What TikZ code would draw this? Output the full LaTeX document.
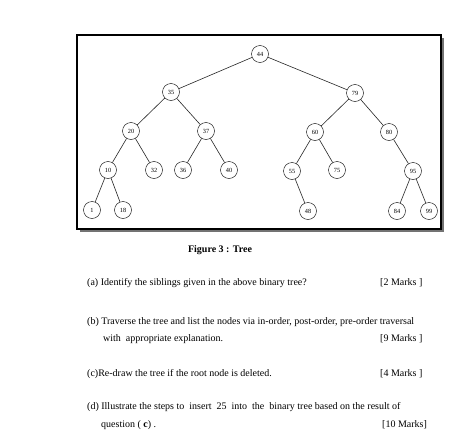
\documentclass[tikz,border=0pt]{standalone}
\usepackage{fontspec}
\setmainfont{Liberation Serif}
\usetikzlibrary{positioning}

\begin{document}
\begin{tikzpicture}[
    x=1pt, y=-1pt,
    tnode/.style={draw, circle, inner sep=0pt, minimum size=17pt, font=\fontsize{6.3}{7}\selectfont},
    link/.style={semithick, black!85},
    qtext/.style={anchor=west, inner sep=0pt, font=\fontsize{10}{12}\selectfont},
    marks/.style={qtext}
]
\useasboundingbox (0,0) rectangle (474,439);

% Frame
\fill[black!55] (80,38) rectangle (444,232);
\draw[line width=1.6pt, fill=white] (77,35) rectangle (441,229);

% Nodes
\node (n44) [tnode] at (260,54) {44};
\node (n35) [tnode] at (171,92) {35};
\node (n79) [tnode] at (355,93) {79};
\node (n20) [tnode] at (131,131) {20};
\node (n37) [tnode] at (206,131) {37};
\node (n60) [tnode] at (315,132) {60};
\node (n80) [tnode] at (389,132) {80};
\node (n10) [tnode] at (108,170) {10};
\node (n32) [tnode] at (154,170) {32};
\node (n36) [tnode] at (183,170) {36};
\node (n40) [tnode] at (229,170) {40};
\node (n55) [tnode] at (292,171) {55};
\node (n75) [tnode] at (337,170) {75};
\node (n95) [tnode] at (413,171) {95};
\node (n1) [tnode] at (92,210) {1};
\node (n18) [tnode] at (123,210) {18};
\node (n48) [tnode] at (308,211) {48};
\node (n84) [tnode] at (397,211) {84};
\node (n99) [tnode] at (429,211) {99};

% Links
\draw[link] (n44) -- (n35);
\draw[link] (n44) -- (n79);
\draw[link] (n35) -- (n20);
\draw[link] (n35) -- (n37);
\draw[link] (n79) -- (n60);
\draw[link] (n79) -- (n80);
\draw[link] (n20) -- (n10);
\draw[link] (n20) -- (n32);
\draw[link] (n37) -- (n36);
\draw[link] (n37) -- (n40);
\draw[link] (n60) -- (n55);
\draw[link] (n60) -- (n75);
\draw[link] (n80) -- (n95);
\draw[link] (n10) -- (n1);
\draw[link] (n10) -- (n18);
\draw[link] (n55) -- (n48);
\draw[link] (n95) -- (n84);
\draw[link] (n95) -- (n99);

% Caption and questions
\node (cap) [inner sep=0pt, font=\fontsize{10}{12}\selectfont\bfseries] at (220,250) {Figure 3 : Tree};
\node (qa) [qtext] at (87,283) {(a) Identify the siblings given in the above binary tree?};
\node (ma) [marks] at (380,283) {[2 Marks ]};
\node (qb) [qtext] at (87,322) {(b) Traverse the tree and list the nodes via in-order, post-order, pre-order traversal};
\node (qb2) [qtext] at (103,339) {with\ \ appropriate explanation.};
\node (mb) [marks] at (380,339) {[9 Marks ]};
\node (qc) [qtext] at (87,374) {(c)Re-draw the tree if the root node is deleted.};
\node (mc) [marks] at (380,374) {[4 Marks ]};
\node (qd) [qtext] at (87,407) {(d) Illustrate the steps to\ \ insert\ \ 25\ \ into\ \ the\ \ binary tree based on the result of};
\node (qd2) [qtext] at (101,425) {question ( \textbf{c}) .};
\node (md) [marks] at (382,425) {[10 Marks]};

\end{tikzpicture}
\end{document}
